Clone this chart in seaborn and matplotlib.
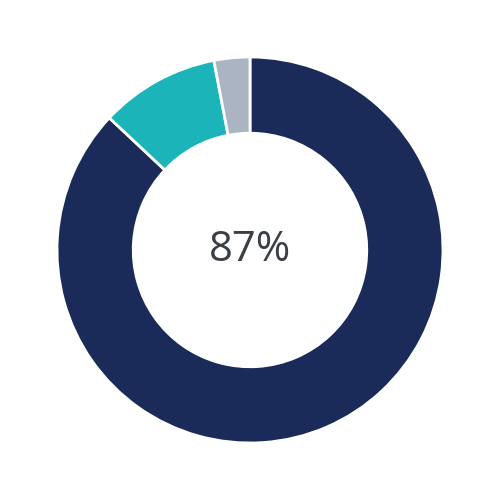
import matplotlib
matplotlib.use("Agg")
import matplotlib.pyplot as plt
import seaborn as sns

sns.set_theme(style="white")
plt.rcParams['font.family'] = ['Open Sans', 'DejaVu Sans']

labels = ["A", "B", "C"]
values = [87, 10, 3]
colors = ["#1b2b59", "#1bb5b9", "#aab4c3"]
center_text = "87%"

fig = plt.figure(figsize=(5, 5), dpi=100)
ax = fig.add_axes([0, 0, 1, 1])
ax.pie(values, colors=colors, startangle=90, counterclock=False,
       wedgeprops=dict(width=0.395, edgecolor="white", linewidth=2))
ax.text(0, 0, center_text, ha="center", va="center", fontsize=30, color="#3a3f47")
lim = 250 / 193
ax.set_xlim(-lim, lim)
ax.set_ylim(-lim, lim)
ax.set_aspect("equal")
ax.axis("off")
fig.savefig("out.png", dpi=100, facecolor="white")
